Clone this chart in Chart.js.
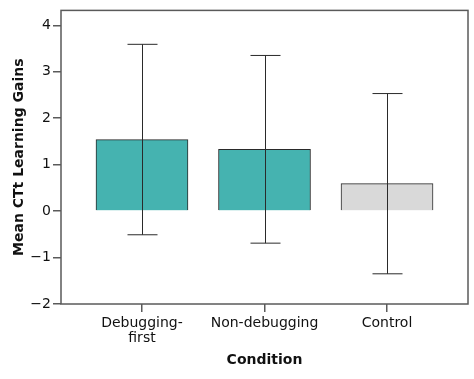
<!DOCTYPE html>
<html>
<head>
<meta charset="utf-8">
<script src="https://cdn.jsdelivr.net/npm/chart.js@4"></script>
<style>
html,body{margin:0;padding:0;background:#fff;}
#wrap{width:474px;height:379px;position:relative;}
</style>
</head>
<body>
<div id="wrap"><canvas id="c" width="474" height="379"></canvas></div>
<script>
const categories = [['Debugging-','first'], 'Non-debugging', 'Control'];
const means = [1.54, 1.33, 0.59];
const errLow = [-0.51, -0.69, -1.35];
const errHigh = [3.59, 3.35, 2.53];
const barColors = ['#45b3b0', '#45b3b0', '#d9d9d9'];
const yTicks = [-2, -1, 0, 1, 2, 3, 4];

const FONT = "'DejaVu Sans', sans-serif";

const errorBars = {
  id: 'errorBars',
  afterDatasetsDraw(chart) {
    const {ctx, scales: {x, y}} = chart;
    ctx.save();
    ctx.strokeStyle = '#2a2a2a';
    ctx.lineWidth = 1;
    means.forEach((m, i) => {
      const cx = Math.round(x.getPixelForValue(i)) + 0.5;
      const yt = y.getPixelForValue(errHigh[i]);
      const yb = y.getPixelForValue(errLow[i]);
      ctx.beginPath();
      ctx.moveTo(cx, yt); ctx.lineTo(cx, yb);
      ctx.moveTo(cx - 15, yt); ctx.lineTo(cx + 15, yt);
      ctx.moveTo(cx - 15, yb); ctx.lineTo(cx + 15, yb);
      ctx.stroke();
    });
    ctx.restore();
  }
};

const frame = {
  id: 'frame',
  afterDraw(chart) {
    const {ctx, chartArea: a} = chart;
    ctx.save();
    ctx.strokeStyle = '#5a5a5a';
    ctx.lineWidth = 1.5;
    ctx.strokeRect(a.left, a.top, a.right - a.left, a.bottom - a.top);
    ctx.restore();
  }
};

new Chart(document.getElementById('c'), {
  type: 'bar',
  data: {
    datasets: [{
      data: means.map((m, i) => ({x: i, y: m})),
      backgroundColor: barColors,
      borderColor: '#2a2a2a',
      borderWidth: 1,
      barThickness: 92
    }]
  },
  options: {
    responsive: false,
    animation: false,
    devicePixelRatio: 1,
    layout: {padding: {left: 0, right: 6, top: 4, bottom: 0}},
    plugins: {legend: {display: false}, tooltip: {enabled: false}},
    scales: {
      x: {
        type: 'linear',
        offset: false,
        min: -0.661,
        max: 2.661,
        afterBuildTicks(s) { s.ticks = categories.map((c, i) => ({value: i})); },
        afterFit(s) { s.height = 75; },
        grid: {offset: false, drawOnChartArea: false, tickLength: 8, color: '#5a5a5a', lineWidth: 1.5},
        border: {display: false},
        ticks: {
          autoSkip: false, maxRotation: 0, padding: 4, color: '#111',
          font: {family: FONT, size: 14, lineHeight: 1.08},
          callback: (v) => categories[v]
        },
        title: {
          display: true, text: 'Condition', color: '#111',
          font: {family: FONT, size: 14, weight: 'bold'},
          padding: {top: 0, bottom: 10}
        }
      },
      y: {
        min: -2,
        max: 4.32,
        afterBuildTicks(s) { s.ticks = yTicks.map(v => ({value: v})); },
        afterFit(s) { s.width = 61; },
        grid: {drawOnChartArea: false, tickLength: 8, color: '#5a5a5a', lineWidth: 1.5},
        border: {display: false},
        ticks: {
          padding: 2, color: '#111',
          font: {family: FONT, size: 14},
          callback: (v) => v < 0 ? '\u2212' + Math.abs(v) : String(v)
        },
        title: {
          display: true, text: 'Mean CTt Learning Gains', color: '#111',
          font: {family: FONT, size: 14, weight: 'bold'},
          padding: {top: 11, bottom: 0}
        }
      }
    }
  },
  plugins: [errorBars, frame]
});
</script>
</body>
</html>
